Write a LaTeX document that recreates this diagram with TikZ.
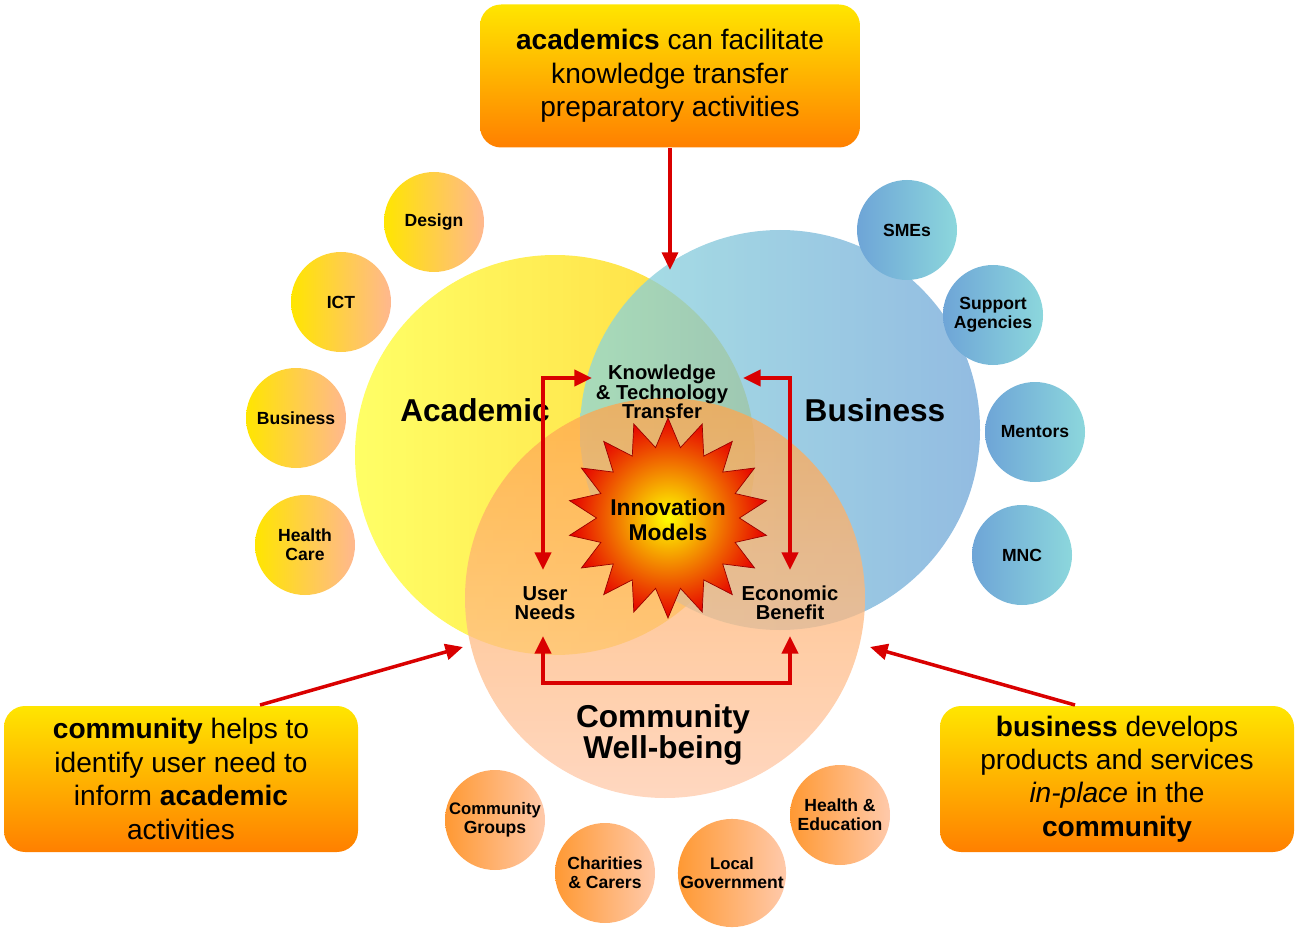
\documentclass[tikz,border=0pt]{standalone}
\usepackage{fontspec}
\setmainfont{Liberation Sans}
\usetikzlibrary{shapes.geometric,arrows.meta,shadings}
\definecolor{teal1}{RGB}{140,215,220}
\definecolor{steel}{RGB}{110,165,215}
\begin{document}
\begin{tikzpicture}[x=0.02cm,y=-0.02cm,
 big/.style={circle,minimum size=400*0.02cm,inner sep=0pt,opacity=0.75},
 sm/.style={circle,minimum size=100*0.02cm,inner sep=0pt,align=center,font=\bfseries\fontsize{10}{11}\selectfont},
 acad/.style={sm,left color=yellow!80!orange,right color=orange!40!pink!80},
 bus/.style={sm,left color=steel,right color=teal1},
 com/.style={sm,left color=orange!80,right color=orange!40!pink!60},
 box/.style={draw=none,rounded corners=12pt,top color=yellow!80!orange,bottom color=orange,align=center,font=\fontsize{16}{19}\selectfont,inner sep=0pt},
 red arr/.style={draw=red!85!black,line width=2.5pt,-{Triangle[length=10pt,width=9pt]}},
 lbl/.style={font=\bfseries\fontsize{11.5}{11}\selectfont,align=center}]
\useasboundingbox (0,0) rectangle (1298,929);
\node[big,left color=yellow!80,right color=orange!40!yellow] (A) at (555,455) {};
\node[big,left color=teal1,right color=steel] (B) at (780,430) {};
\node[big,top color=orange!70,bottom color=orange!40!pink!60] (C) at (665,598) {};
\node[font=\bfseries\fontsize{18}{16}\selectfont] (tA) at (475,410) {Academic};
\node[font=\bfseries\fontsize{18}{16}\selectfont] (tB) at (875,410) {Business};
\node[font=\bfseries\fontsize{18}{18}\selectfont,align=center] (tC) at (663,735) {Community\\Well-being};
\node[acad] (d) at (434,222) {Design};
\node[acad] (i) at (341,302) {ICT};
\node[acad] (bu) at (296,418) {Business};
\node[acad] (h) at (305,545) {Health\\Care};
\node[bus] (s) at (907,230) {SMEs};
\node[bus] (sa) at (993,315) {Support\\Agencies};
\node[bus] (m) at (1035,432) {Mentors};
\node[bus] (mn) at (1022,555) {MNC};
\node[com] (cg) at (495,820) {\fontsize{9.5}{11}\selectfont Community\\Groups};
\node[com] (ch) at (605,873) {Charities\\\& Carers};
\node[com] (lg) at (732,873) {\fontsize{9.5}{11}\selectfont Local\\Government};
\node[com] (he) at (840,815) {Health \&\\Education};
\node[star,star points=18,star point ratio=1.4,minimum size=200*0.02cm,inner color=yellow,outer color=red!90!black,draw=red!60!black,inner sep=0pt] (st) at (668,518) {};
\node[font=\bfseries\fontsize{13}{14}\selectfont,align=center] (stt) at (668,520) {Innovation\\Models};
\node[lbl] (k) at (662,392) {Knowledge\\\& Technology\\Transfer};
\node[lbl] (u) at (545,603) {User\\Needs};
\node[lbl] (e) at (790,603) {Economic\\Benefit};
\coordinate (p1) at (543,570); \coordinate (p2) at (543,378); \coordinate (p3) at (592,378);
\draw[red arr,{Triangle[length=10pt,width=9pt]}-{Triangle[length=10pt,width=9pt]}] (p1) -- (p2) -- (p3);
\coordinate (q1) at (790,570); \coordinate (q2) at (790,378); \coordinate (q3) at (743,378);
\draw[red arr,{Triangle[length=10pt,width=9pt]}-{Triangle[length=10pt,width=9pt]}] (q1) -- (q2) -- (q3);
\coordinate (r1) at (543,636); \coordinate (r2) at (543,683); \coordinate (r3) at (790,683); \coordinate (r4) at (790,636);
\draw[red arr,{Triangle[length=10pt,width=9pt]}-{Triangle[length=10pt,width=9pt]}] (r1) -- (r2) -- (r3) -- (r4);
\node[box,minimum width=380*0.02cm,minimum height=143*0.02cm] (bt) at (670,76) {\textbf{academics} can facilitate\\knowledge transfer\\preparatory activities};
\node[box,minimum width=354*0.02cm,minimum height=146*0.02cm] (bl) at (181,779) {\textbf{community} helps to\\identify user need to\\inform \textbf{academic}\\activities};
\node[box,minimum width=354*0.02cm,minimum height=146*0.02cm] (br) at (1117,779) {\textbf{business} develops\\products and services\\\textit{in-place} in the\\\textbf{community}};
\coordinate (at) at (670,270); \coordinate (al) at (463,647); \coordinate (ar) at (870,647);
\coordinate (sl) at (260,705); \coordinate (sr) at (1075,705);
\draw[red arr,line width=2pt] (bt.south) -- (at);
\draw[red arr,line width=2pt] (sl) -- (al);
\draw[red arr,line width=2pt] (sr) -- (ar);
\end{tikzpicture}
\end{document}
